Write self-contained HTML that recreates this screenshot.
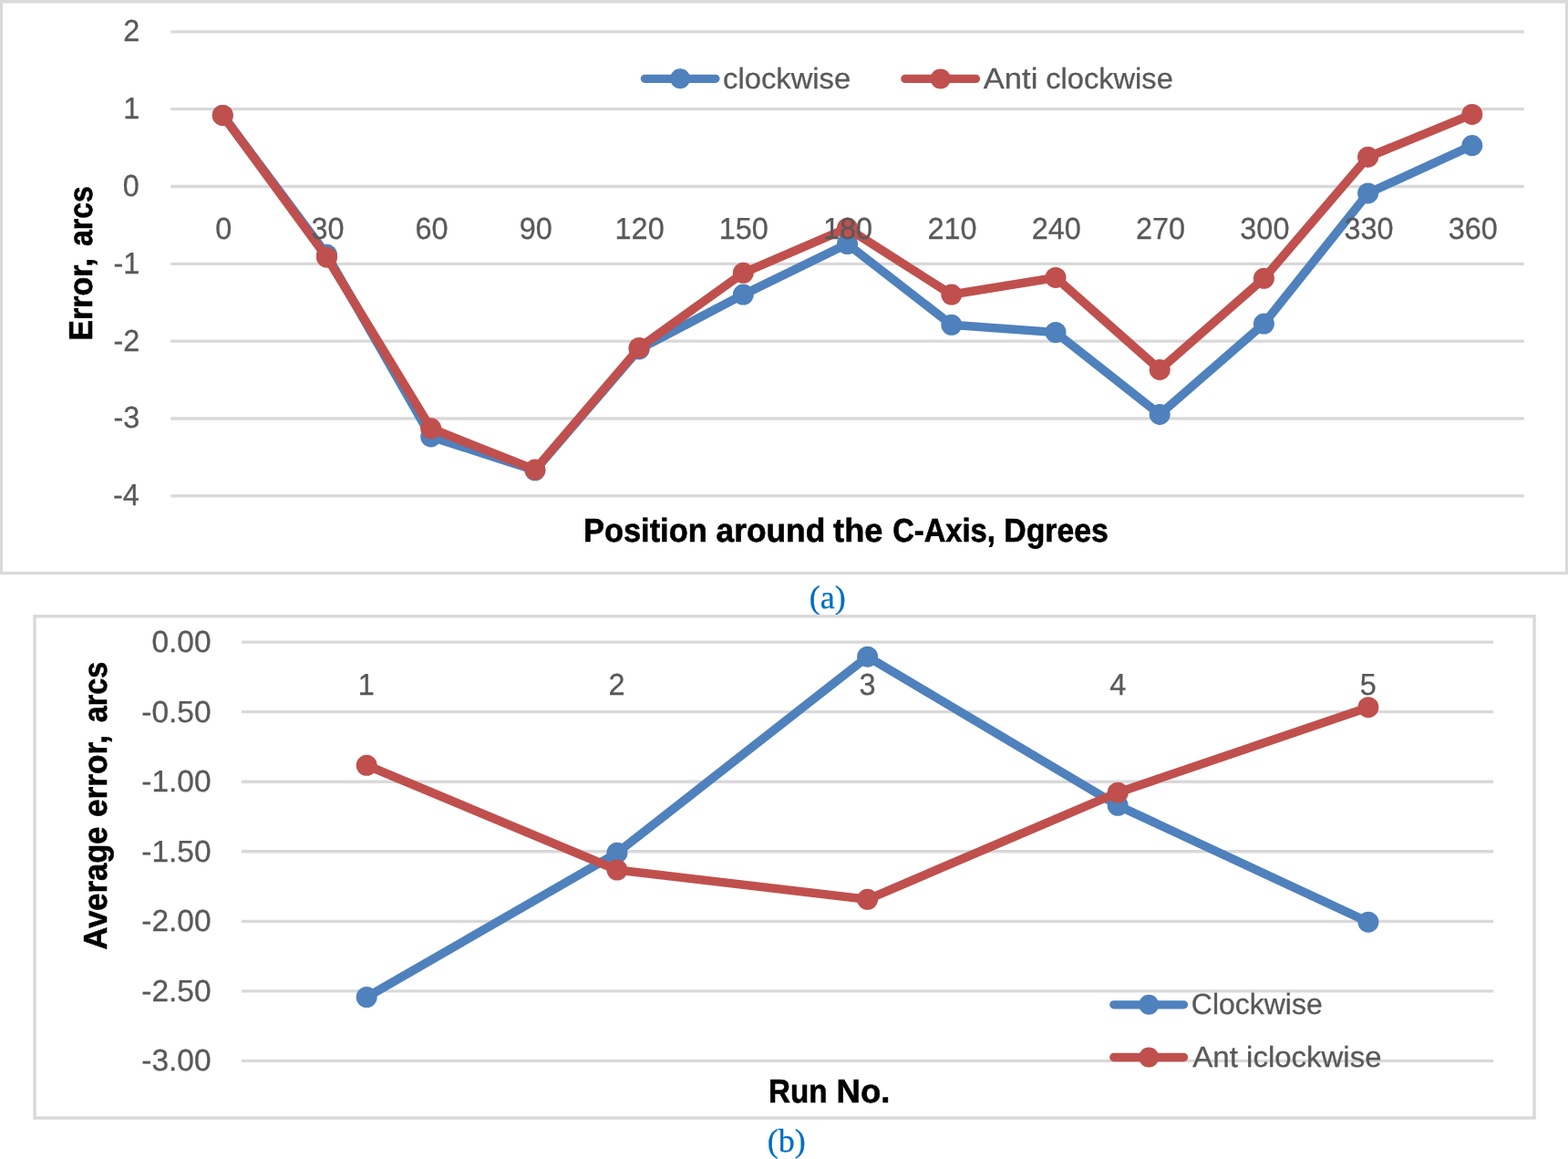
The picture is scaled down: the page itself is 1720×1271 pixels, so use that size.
<!DOCTYPE html>
<html lang="en"><head><meta charset="utf-8"><title>C-Axis positioning error</title>
<style>
html,body{margin:0;padding:0;background:#fff;}
body{width:1720px;height:1271px;overflow:hidden;}
svg{display:block;}
text{white-space:pre;text-rendering:geometricPrecision;}
.t{font-family:"Liberation Sans",sans-serif;fill:#595959;stroke:#595959;stroke-width:0.3;font-size:33.3px;}
.l{font-family:"Liberation Sans",sans-serif;fill:#595959;stroke:#595959;stroke-width:0.3;font-size:32.0px;}
.b{font-family:"Liberation Sans",sans-serif;fill:#000;stroke:#000;stroke-width:0.6;font-weight:bold;font-size:36.2px;}
.c{font-family:"Liberation Serif",serif;fill:#0070c0;stroke:#0070c0;stroke-width:0.3px;font-size:36.0px;}
</style></head><body>
<svg width="1720" height="1271" viewBox="0 0 1720 1271">
<rect x="0" y="0" width="1720" height="1271" fill="#fff"/>
<text class="c" x="907.8" y="667.4" text-anchor="middle">(a)</text>
<text class="c" x="862.7" y="1263.3" text-anchor="middle">(b)</text>
<g fill="#fff" stroke="#d9d9d9" stroke-width="3.4">
<rect x="1.3" y="1.8" width="1717.4" height="626.7"/>
<rect x="38" y="675.8" width="1645" height="550.2"/>
</g>
<g stroke="#d9d9d9" stroke-width="3.3">
<line x1="187.2" y1="34.80" x2="1671.9" y2="34.80"/>
<line x1="187.2" y1="119.64" x2="1671.9" y2="119.64"/>
<line x1="187.2" y1="204.48" x2="1671.9" y2="204.48"/>
<line x1="187.2" y1="289.32" x2="1671.9" y2="289.32"/>
<line x1="187.2" y1="374.16" x2="1671.9" y2="374.16"/>
<line x1="187.2" y1="459.00" x2="1671.9" y2="459.00"/>
<line x1="187.2" y1="543.84" x2="1671.9" y2="543.84"/>
</g>
<g stroke="#d9d9d9" stroke-width="3.3">
<line x1="264.9" y1="704.20" x2="1638.2" y2="704.20"/>
<line x1="264.9" y1="780.72" x2="1638.2" y2="780.72"/>
<line x1="264.9" y1="857.24" x2="1638.2" y2="857.24"/>
<line x1="264.9" y1="933.76" x2="1638.2" y2="933.76"/>
<line x1="264.9" y1="1010.28" x2="1638.2" y2="1010.28"/>
<line x1="264.9" y1="1086.80" x2="1638.2" y2="1086.80"/>
<line x1="264.9" y1="1163.32" x2="1638.2" y2="1163.32"/>
</g>
<g fill="#4f81bd" stroke="none">
<polyline points="244.3,126.4 358.5,279.3 472.7,478.9 586.9,515.8 701.1,382.9 815.3,323.1 929.5,267.5 1043.8,356.3 1158.0,364.5 1272.2,454.4 1386.4,355.1 1500.6,211.9 1614.8,159.6" fill="none" stroke="#4f81bd" stroke-width="9.6" stroke-linejoin="round" stroke-linecap="round"/>
<circle cx="244.3" cy="126.4" r="11.5"/>
<circle cx="358.5" cy="279.3" r="11.5"/>
<circle cx="472.7" cy="478.9" r="11.5"/>
<circle cx="586.9" cy="515.8" r="11.5"/>
<circle cx="701.1" cy="382.9" r="11.5"/>
<circle cx="815.3" cy="323.1" r="11.5"/>
<circle cx="929.5" cy="267.5" r="11.5"/>
<circle cx="1043.8" cy="356.3" r="11.5"/>
<circle cx="1158.0" cy="364.5" r="11.5"/>
<circle cx="1272.2" cy="454.4" r="11.5"/>
<circle cx="1386.4" cy="355.1" r="11.5"/>
<circle cx="1500.6" cy="211.9" r="11.5"/>
<circle cx="1614.8" cy="159.6" r="11.5"/>
</g>
<g fill="#c0504d" stroke="none">
<polyline points="244.3,126.4 358.5,282.2 472.7,469.8 586.9,515.1 701.1,381.5 815.3,299.3 929.5,250.2 1043.8,323.1 1158.0,304.4 1272.2,405.4 1386.4,305.3 1500.6,172.2 1614.8,125.4" fill="none" stroke="#c0504d" stroke-width="9.6" stroke-linejoin="round" stroke-linecap="round"/>
<circle cx="244.3" cy="126.4" r="11.5"/>
<circle cx="358.5" cy="282.2" r="11.5"/>
<circle cx="472.7" cy="469.8" r="11.5"/>
<circle cx="586.9" cy="515.1" r="11.5"/>
<circle cx="701.1" cy="381.5" r="11.5"/>
<circle cx="815.3" cy="299.3" r="11.5"/>
<circle cx="929.5" cy="250.2" r="11.5"/>
<circle cx="1043.8" cy="323.1" r="11.5"/>
<circle cx="1158.0" cy="304.4" r="11.5"/>
<circle cx="1272.2" cy="405.4" r="11.5"/>
<circle cx="1386.4" cy="305.3" r="11.5"/>
<circle cx="1500.6" cy="172.2" r="11.5"/>
<circle cx="1614.8" cy="125.4" r="11.5"/>
</g>
<g fill="#4f81bd"><line x1="707.4" y1="86.3" x2="784.9" y2="86.3" stroke="#4f81bd" stroke-width="9.3" stroke-linecap="round"/><circle cx="746.1" cy="86.3" r="11.0"/></g>
<g fill="#c0504d"><line x1="992.9" y1="86.4" x2="1070.4" y2="86.4" stroke="#c0504d" stroke-width="9.3" stroke-linecap="round"/><circle cx="1031.7" cy="86.4" r="11.0"/></g>
<g fill="#4f81bd" stroke="none">
<polyline points="402.2,1093.5 676.9,935.3 951.6,720.2 1226.2,883.3 1500.9,1011.2" fill="none" stroke="#4f81bd" stroke-width="9.6" stroke-linejoin="round" stroke-linecap="round"/>
<circle cx="402.2" cy="1093.5" r="11.5"/>
<circle cx="676.9" cy="935.3" r="11.5"/>
<circle cx="951.6" cy="720.2" r="11.5"/>
<circle cx="1226.2" cy="883.3" r="11.5"/>
<circle cx="1500.9" cy="1011.2" r="11.5"/>
</g>
<g fill="#c0504d" stroke="none">
<polyline points="402.2,839.3 676.9,954.0 951.6,986.3 1226.2,869.2 1500.9,775.7" fill="none" stroke="#c0504d" stroke-width="9.6" stroke-linejoin="round" stroke-linecap="round"/>
<circle cx="402.2" cy="839.3" r="11.5"/>
<circle cx="676.9" cy="954.0" r="11.5"/>
<circle cx="951.6" cy="986.3" r="11.5"/>
<circle cx="1226.2" cy="869.2" r="11.5"/>
<circle cx="1500.9" cy="775.7" r="11.5"/>
</g>
<g fill="#4f81bd"><line x1="1221.8" y1="1101.8" x2="1298.5" y2="1101.8" stroke="#4f81bd" stroke-width="9.3" stroke-linecap="round"/><circle cx="1260.2" cy="1101.8" r="11.0"/></g>
<g fill="#c0504d"><line x1="1221.8" y1="1159.5" x2="1298.5" y2="1159.5" stroke="#c0504d" stroke-width="9.3" stroke-linecap="round"/><circle cx="1260.2" cy="1159.5" r="11.0"/></g>
<g class="t">
<text x="135.34" y="45.1" textLength="18.02" lengthAdjust="spacingAndGlyphs">2</text>
<text x="135.34" y="129.9" textLength="18.02" lengthAdjust="spacingAndGlyphs">1</text>
<text x="134.84" y="214.8" textLength="18.02" lengthAdjust="spacingAndGlyphs">0</text>
<text x="124.55" y="299.6" textLength="28.81" lengthAdjust="spacingAndGlyphs">-1</text>
<text x="124.55" y="384.5" textLength="28.81" lengthAdjust="spacingAndGlyphs">-2</text>
<text x="124.55" y="469.3" textLength="28.81" lengthAdjust="spacingAndGlyphs">-3</text>
<text x="124.05" y="554.1" textLength="28.81" lengthAdjust="spacingAndGlyphs">-4</text>
<text x="236.29" y="262.3" textLength="18.02" lengthAdjust="spacingAndGlyphs">0</text>
<text x="341.49" y="262.3" textLength="36.04" lengthAdjust="spacingAndGlyphs">30</text>
<text x="455.44" y="262.3" textLength="36.04" lengthAdjust="spacingAndGlyphs">60</text>
<text x="569.65" y="262.3" textLength="36.04" lengthAdjust="spacingAndGlyphs">90</text>
<text x="674.60" y="262.3" textLength="54.06" lengthAdjust="spacingAndGlyphs">120</text>
<text x="788.80" y="262.3" textLength="54.06" lengthAdjust="spacingAndGlyphs">150</text>
<text x="903.01" y="262.3" textLength="54.06" lengthAdjust="spacingAndGlyphs">180</text>
<text x="1017.47" y="262.3" textLength="54.06" lengthAdjust="spacingAndGlyphs">210</text>
<text x="1131.68" y="262.3" textLength="54.06" lengthAdjust="spacingAndGlyphs">240</text>
<text x="1245.89" y="262.3" textLength="54.06" lengthAdjust="spacingAndGlyphs">270</text>
<text x="1360.35" y="262.3" textLength="54.06" lengthAdjust="spacingAndGlyphs">300</text>
<text x="1474.56" y="262.3" textLength="54.06" lengthAdjust="spacingAndGlyphs">330</text>
<text x="1588.76" y="262.3" textLength="54.06" lengthAdjust="spacingAndGlyphs">360</text>
</g>
<text class="l" y="96.8"><tspan x="793.13" textLength="139.95" lengthAdjust="spacingAndGlyphs">clockwise</tspan></text>
<text class="l" y="96.8"><tspan x="1078.85" textLength="59.48" lengthAdjust="spacingAndGlyphs">Anti</tspan> <tspan x="1147.33" textLength="139.44" lengthAdjust="spacingAndGlyphs">clockwise</tspan></text>
<text class="b" y="0.0" transform="translate(101.2 371.6) rotate(-90)"><tspan x="-1.82" textLength="90.32" lengthAdjust="spacingAndGlyphs">Error,</tspan> <tspan x="101.60" textLength="65.80" lengthAdjust="spacingAndGlyphs">arcs</tspan></text>
<text class="b" y="593.5"><tspan x="640.05" textLength="135.61" lengthAdjust="spacingAndGlyphs">Position</tspan> <tspan x="785.55" textLength="119.71" lengthAdjust="spacingAndGlyphs">around</tspan> <tspan x="914.10" textLength="54.30" lengthAdjust="spacingAndGlyphs">the</tspan> <tspan x="979.18" textLength="112.65" lengthAdjust="spacingAndGlyphs">C-Axis,</tspan> <tspan x="1101.29" textLength="114.58" lengthAdjust="spacingAndGlyphs">Dgrees</tspan></text>
<g class="t">
<text x="166.45" y="715.0" textLength="65.14" lengthAdjust="spacingAndGlyphs">0.00</text>
<text x="155.30" y="791.5" textLength="76.28" lengthAdjust="spacingAndGlyphs">-0.50</text>
<text x="155.30" y="868.0" textLength="76.28" lengthAdjust="spacingAndGlyphs">-1.00</text>
<text x="155.30" y="944.6" textLength="76.28" lengthAdjust="spacingAndGlyphs">-1.50</text>
<text x="155.30" y="1021.1" textLength="76.28" lengthAdjust="spacingAndGlyphs">-2.00</text>
<text x="155.30" y="1097.6" textLength="76.28" lengthAdjust="spacingAndGlyphs">-2.50</text>
<text x="155.30" y="1174.1" textLength="76.28" lengthAdjust="spacingAndGlyphs">-3.00</text>
<text x="392.66" y="762.0" textLength="18.02" lengthAdjust="spacingAndGlyphs">1</text>
<text x="667.58" y="762.0" textLength="18.02" lengthAdjust="spacingAndGlyphs">2</text>
<text x="942.49" y="762.0" textLength="18.02" lengthAdjust="spacingAndGlyphs">3</text>
<text x="1217.15" y="762.0" textLength="18.02" lengthAdjust="spacingAndGlyphs">4</text>
<text x="1491.81" y="762.0" textLength="18.02" lengthAdjust="spacingAndGlyphs">5</text>
</g>
<text class="l" y="1112.0"><tspan x="1306.85" textLength="143.89" lengthAdjust="spacingAndGlyphs">Clockwise</tspan></text>
<text class="l" y="1169.7"><tspan x="1308.15" textLength="49.69" lengthAdjust="spacingAndGlyphs">Ant</tspan> <tspan x="1367.09" textLength="148.40" lengthAdjust="spacingAndGlyphs">iclockwise</tspan></text>
<text class="b" y="0.0" transform="translate(117.2 1041.2) rotate(-90)"><tspan x="-0.24" textLength="134.80" lengthAdjust="spacingAndGlyphs">Average</tspan> <tspan x="145.20" textLength="89.98" lengthAdjust="spacingAndGlyphs">error,</tspan> <tspan x="248.89" textLength="66.52" lengthAdjust="spacingAndGlyphs">arcs</tspan></text>
<text class="b" y="1208.8"><tspan x="843.03" textLength="64.48" lengthAdjust="spacingAndGlyphs">Run</tspan> <tspan x="917.62" textLength="58.84" lengthAdjust="spacingAndGlyphs">No.</tspan></text>
</svg>
</body></html>
